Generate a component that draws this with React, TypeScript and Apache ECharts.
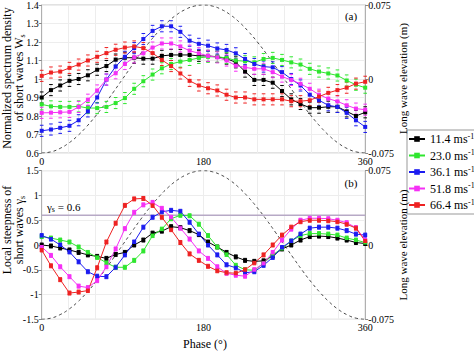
import React, { useEffect, useRef } from 'react';
import * as echarts from 'echarts';

// phase bins (degrees)
const phases = [0, 10.3, 20.6, 30.9, 41.1, 51.4, 61.7, 72.0, 82.3, 92.6, 102.9, 113.1, 123.4, 133.7, 144.0, 154.3, 164.6, 174.9, 185.1, 195.4, 205.7, 216.0, 226.3, 236.6, 246.9, 257.1, 267.4, 277.7, 288.0, 298.3, 308.6, 318.9, 329.1, 339.4, 349.7, 360];

const speeds = ['11.4', '23.0', '36.1', '51.8', '66.4'];
const colors = ['#000000', '#2fe62f', '#1c1cf0', '#f530f5', '#ee2222'];

// (a) normalized spectrum density of short waves Ws
const ws114 = [0.90, 0.94, 0.965, 0.99, 1.0, 1.02, 1.05, 1.07, 1.105, 1.115, 1.115, 1.11, 1.11, 1.125, 1.13, 1.13, 1.13, 1.125, 1.125, 1.12, 1.11, 1.09, 1.04, 0.995, 0.995, 0.98, 0.935, 0.89, 0.865, 0.845, 0.845, 0.85, 0.85, 0.825, 0.80, 0.82];
const ws230 = [0.863, 0.852, 0.849, 0.849, 0.852, 0.843, 0.843, 0.849, 0.87, 0.897, 0.947, 0.988, 1.024, 1.058, 1.081, 1.094, 1.103, 1.114, 1.12, 1.12, 1.114, 1.10, 1.096, 1.09, 1.108, 1.114, 1.103, 1.09, 1.078, 1.055, 1.04, 1.03, 1.019, 0.992, 0.969, 0.953];
const ws361 = [0.72, 0.727, 0.736, 0.747, 0.777, 0.825, 0.90, 0.997, 1.067, 1.12, 1.167, 1.216, 1.26, 1.285, 1.285, 1.255, 1.207, 1.19, 1.18, 1.165, 1.157, 1.139, 1.108, 1.081, 1.067, 1.063, 1.037, 1.0, 0.965, 0.915, 0.885, 0.858, 0.849, 0.817, 0.777, 0.741];
const ws518 = [0.817, 0.818, 0.82, 0.822, 0.849, 0.888, 0.938, 0.997, 1.031, 1.081, 1.117, 1.139, 1.17, 1.192, 1.192, 1.176, 1.153, 1.139, 1.125, 1.117, 1.10, 1.072, 1.063, 1.055, 1.055, 1.037, 1.013, 0.995, 0.974, 0.947, 0.915, 0.894, 0.879, 0.858, 0.84, 0.834];
const ws664 = [1.017, 1.035, 1.04, 1.06, 1.078, 1.10, 1.12, 1.14, 1.158, 1.17, 1.176, 1.167, 1.14, 1.103, 1.07, 1.03, 0.99, 0.965, 0.95, 0.938, 0.915, 0.90, 0.90, 0.89, 0.89, 0.89, 0.89, 0.88, 0.88, 0.885, 0.905, 0.925, 0.94, 0.953, 0.975, 0.985];

// (b) local steepness of short waves gamma_s
const gs114 = [0.0, -0.02, -0.06, -0.1, -0.15, -0.2, -0.23, -0.27, -0.19, -0.15, 0.0, 0.10, 0.24, 0.28, 0.37, 0.35, 0.29, 0.21, 0.06, -0.04, -0.15, -0.24, -0.31, -0.33, -0.32, -0.22, -0.08, 0.0, 0.10, 0.17, 0.18, 0.17, 0.14, 0.10, 0.05, 0.03];
const gs230 = [0.17, 0.14, 0.10, 0.06, -0.04, -0.15, -0.25, -0.36, -0.45, -0.45, -0.31, -0.12, 0.19, 0.32, 0.53, 0.60, 0.59, 0.42, 0.19, -0.04, -0.19, -0.41, -0.5, -0.51, -0.37, -0.2, -0.07, 0.08, 0.19, 0.23, 0.23, 0.22, 0.20, 0.14, 0.10, 0.05];
const gs361 = [0.19, 0.12, 0.0, -0.14, -0.34, -0.54, -0.63, -0.64, -0.45, -0.2, 0.06, 0.36, 0.56, 0.67, 0.70, 0.68, 0.46, 0.22, 0.0, -0.2, -0.4, -0.46, -0.56, -0.54, -0.41, -0.25, -0.05, 0.08, 0.22, 0.34, 0.36, 0.36, 0.34, 0.29, 0.22, 0.2];
const gs518 = [-0.04, -0.21, -0.44, -0.64, -0.83, -0.86, -0.72, -0.44, -0.08, 0.33, 0.66, 0.81, 0.86, 0.74, 0.56, 0.34, 0.12, -0.12, -0.27, -0.44, -0.57, -0.61, -0.63, -0.5, -0.37, -0.15, 0.1, 0.32, 0.5, 0.54, 0.54, 0.53, 0.5, 0.45, 0.35, 0.1];
const gs664 = [-0.10, -0.42, -0.7, -0.97, -0.95, -0.92, -0.46, 0.06, 0.44, 0.80, 0.93, 0.94, 0.80, 0.56, 0.31, 0.05, -0.18, -0.31, -0.43, -0.52, -0.56, -0.57, -0.5, -0.36, -0.2, 0.0, 0.2, 0.36, 0.47, 0.5, 0.5, 0.49, 0.47, 0.42, 0.34, 0.08];

const wsErr = 0.03;
const gsErr = 0.04;
const gammaThreshold = 0.6;

// long wave elevation (m)
const wavePhase = [0, 10, 20, 30, 40, 50, 60, 70, 80, 90, 100, 110, 120, 130, 140, 150, 160, 170, 180, 190, 200, 210, 220, 230, 240, 250, 260, 270, 280, 290, 300, 310, 320, 330, 340, 350, 360];
const waveElev = [-0.075, -0.0739, -0.0705, -0.065, -0.0575, -0.0482, -0.0375, -0.0257, -0.013, 0, 0.013, 0.0257, 0.0375, 0.0482, 0.0575, 0.065, 0.0705, 0.0739, 0.075, 0.0739, 0.0705, 0.065, 0.0575, 0.0482, 0.0375, 0.0257, 0.013, 0, -0.013, -0.0257, -0.0375, -0.0482, -0.0575, -0.065, -0.0705, -0.0739, -0.075];

const wsAll = [ws114, ws230, ws361, ws518, ws664];
const gsAll = [gs114, gs230, gs361, gs518, gs664];

const FONT = 'Liberation Serif';

export default function App() {
  const ref = useRef<HTMLDivElement>(null);
  useEffect(() => {
    const chart = echarts.init(ref.current!, null, { renderer: 'svg' });

    const errRender = (color: string) => (params: any, api: any) => {
      const x = api.value(0), y = api.value(1), e = api.value(2);
      const lo = api.coord([x, y - e]);
      const hi = api.coord([x, y + e]);
      const hw = 1.8;
      return {
        type: 'group',
        children: [
          { type: 'line', shape: { x1: lo[0], y1: lo[1], x2: hi[0], y2: hi[1] }, style: { stroke: color, lineWidth: 0.5, opacity: 0.35 } },
          { type: 'line', shape: { x1: lo[0] - hw, y1: lo[1], x2: lo[0] + hw, y2: lo[1] }, style: { stroke: color, lineWidth: 1 } },
          { type: 'line', shape: { x1: hi[0] - hw, y1: hi[1], x2: hi[0] + hw, y2: hi[1] }, style: { stroke: color, lineWidth: 1 } },
        ],
      };
    };

    const xAxisBase = (gi: number) => ({
      gridIndex: gi,
      type: 'value',
      min: 0,
      max: 360,
      interval: 180,
      axisLine: { show: false },
      axisTick: { show: false },
      axisLabel: { fontFamily: FONT, fontSize: 10, color: '#000', margin: 3 },
      splitLine: { show: true, lineStyle: { color: '#ededed', width: 1 } },
      minorTick: { show: false, splitNumber: 6 },
      minorSplitLine: { show: true, lineStyle: { color: '#ededed', width: 1 } },
    });
    const yLeft = (gi: number, min: number, max: number, interval: number) => ({
      gridIndex: gi,
      type: 'value',
      min,
      max,
      interval,
      axisLine: { show: true, lineStyle: { color: '#b0b0b0' } },
      axisTick: { show: true, length: 3, lineStyle: { color: '#888' } },
      axisLabel: { fontFamily: FONT, fontSize: 10, color: '#000', margin: 3 },
      splitLine: { show: true, lineStyle: { color: '#ededed', width: 1 } },
    });
    const yRight = (gi: number) => ({
      gridIndex: gi,
      type: 'value',
      position: 'right',
      min: -0.075,
      max: 0.075,
      interval: 0.075,
      axisLine: { show: true, lineStyle: { color: '#b0b0b0' } },
      axisTick: { show: true, length: 3, lineStyle: { color: '#888' } },
      axisLabel: { fontFamily: FONT, fontSize: 10, color: '#000', margin: 3 },
      splitLine: { show: false },
    });

    const series: any[] = [];
    [0, 1].forEach((gi) => {
      series.push({
        name: 'wave' + gi,
        type: 'line',
        xAxisIndex: gi,
        yAxisIndex: gi === 0 ? 1 : 3,
        data: wavePhase.map((p, i) => [p, waveElev[i]]),
        smooth: true,
        showSymbol: false,
        symbol: 'none',
        lineStyle: { color: '#333', width: 0.9, type: [3, 3] },
        z: 1,
      });
    });
    series.push({
      name: 'gamma',
      type: 'line',
      xAxisIndex: 1,
      yAxisIndex: 2,
      data: [[0, gammaThreshold], [360, gammaThreshold]],
      symbol: 'none',
      lineStyle: { color: '#b7a9c6', width: 1.5 },
      z: 1,
    });
    speeds.forEach((s, k) => {
      const c = colors[k];
      series.push({
        name: s + 'err',
        type: 'custom',
        xAxisIndex: 0,
        yAxisIndex: 0,
        data: phases.map((p, i) => [p, wsAll[k][i], wsErr]),
        encode: { x: 0, y: 1 },
        renderItem: errRender(c),
        z: 2,
      });
      series.push({
        name: s,
        type: 'line',
        xAxisIndex: 0,
        yAxisIndex: 0,
        data: phases.map((p, i) => [p, wsAll[k][i]]),
        symbol: 'rect',
        symbolSize: 4,
        itemStyle: { color: c },
        lineStyle: { color: c, width: 1 },
        z: 3,
      });
      series.push({
        name: s + 'errb',
        type: 'custom',
        xAxisIndex: 1,
        yAxisIndex: 2,
        data: phases.map((p, i) => [p, gsAll[k][i], gsErr]),
        encode: { x: 0, y: 1 },
        renderItem: errRender(c),
        z: 2,
      });
      series.push({
        name: s,
        type: 'line',
        xAxisIndex: 1,
        yAxisIndex: 2,
        data: phases.map((p, i) => [p, gsAll[k][i]]),
        symbol: 'rect',
        symbolSize: 4,
        itemStyle: { color: c },
        lineStyle: { color: c, width: 1 },
        z: 3,
      });
    });

    const txt = (x: number, y: number, text: string, extra: any = {}, rotation = 0) => ({
      type: 'text',
      x,
      y,
      rotation,
      style: {
        text,
        fontFamily: FONT,
        fontSize: 12,
        fill: '#000',
        align: 'center',
        verticalAlign: 'middle',
        ...extra,
      },
      z: 10,
    });
    const subRich = {
      n: { fontFamily: FONT, fontSize: 12, lineHeight: 14, fill: '#000' },
      sub: { fontFamily: FONT, fontSize: 8, lineHeight: 8, verticalAlign: 'bottom', fill: '#000' },
    };

    const option: any = {
      animation: false,
      backgroundColor: '#fff',
      grid: [
        { left: 41.7, top: 4, width: 323.5, height: 149, show: true, borderColor: '#c4c4c4', borderWidth: 1 },
        { left: 41.7, top: 170.7, width: 323.5, height: 148.6, show: true, borderColor: '#c4c4c4', borderWidth: 1 },
      ],
      xAxis: [xAxisBase(0), xAxisBase(1)],
      yAxis: [yLeft(0, 0.6, 1.4, 0.1), yRight(0), yLeft(1, -1.5, 1.5, 0.5), yRight(1)],
      legend: {
        data: speeds,
        orient: 'vertical',
        left: 407,
        top: 130,
        itemWidth: 16,
        itemHeight: 7,
        itemGap: 3.5,
        padding: [2, 2, 3, 1],
        borderColor: '#999',
        borderWidth: 1,
        backgroundColor: '#fff',
        formatter: (name: string) => `{a|${name} ms}{sup|-1}`,
        textStyle: {
          fontFamily: FONT,
          color: '#000',
          rich: {
            a: { fontFamily: FONT, fontSize: 12, lineHeight: 14, color: '#000' },
            sup: { fontFamily: FONT, fontSize: 8, lineHeight: 8, verticalAlign: 'top', color: '#000' },
          },
        },
      },
      graphic: [
        txt(7, 78, 'Normalized spectrum density', {}, Math.PI / 2),
        txt(19, 78, '{n|of short waves W}{sub|s}', { rich: subRich }, Math.PI / 2),
        txt(7, 230, 'Local steepness of', {}, Math.PI / 2),
        txt(19, 230, '{n|short waves γ}{sub|s}', { rich: subRich }, Math.PI / 2),
        txt(403, 78.5, 'Long wave elevation (m)', { fontSize: 11 }, Math.PI / 2),
        txt(403, 245, 'Long wave elevation (m)', { fontSize: 11 }, Math.PI / 2),
        txt(205, 344, 'Phase (°)'),
        txt(351, 16, '(a)', { fontSize: 11 }),
        txt(351, 183, '(b)', { fontSize: 11 }),
        txt(47, 207, '{n|γ}{sub|s}{n| = 0.6}', {
          align: 'left',
          rich: {
            n: { fontFamily: FONT, fontSize: 11, lineHeight: 13, fill: '#000' },
            sub: { fontFamily: FONT, fontSize: 8, lineHeight: 8, verticalAlign: 'bottom', fill: '#000' },
          },
        }),
      ],
      series,
    };
    chart.setOption(option);
    return () => chart.dispose();
  }, []);
  return <div ref={ref} style={{ width: 474, height: 351, position: 'absolute', left: 0, top: 0 }} />;
}
